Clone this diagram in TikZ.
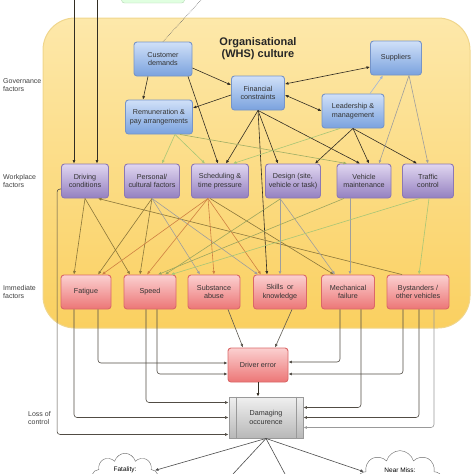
\documentclass[tikz,border=0pt]{standalone}
\usepackage{fontspec}
\setmainfont{Liberation Sans}
\usetikzlibrary{
  arrows.meta,
  positioning,
  shapes.symbols,
  calc
}
\definecolor{govTop}{RGB}{208,224,248}
\definecolor{govBot}{RGB}{122,162,222}
\definecolor{govLine}{RGB}{118,148,200}
\definecolor{workTop}{RGB}{224,214,240}
\definecolor{workBot}{RGB}{148,128,192}
\definecolor{workLine}{RGB}{140,120,180}
\definecolor{immTop}{RGB}{251,208,208}
\definecolor{immBot}{RGB}{236,118,118}
\definecolor{immLine}{RGB}{218,104,104}
\definecolor{bgTop}{RGB}{253,232,170}
\definecolor{bgBot}{RGB}{250,208,96}
\definecolor{bgLine}{RGB}{240,214,140}
\definecolor{darkEdge}{RGB}{50,45,35}
\definecolor{oliveEdge}{RGB}{138,118,58}
\definecolor{orangeEdge}{RGB}{206,128,66}
\definecolor{grayEdge}{RGB}{158,158,158}
\definecolor{greenEdge}{RGB}{168,198,118}
\tikzset{
  factor/.style={
    rounded corners=3pt,
    draw,
    line width=0.9pt,
    align=center,
    inner sep=1pt,
    minimum height=34pt,
    text=black!80,
    font=\fontsize{7.2}{8.6}\selectfont
  },
  govbox/.style={factor, draw=govLine, top color=govTop, bottom color=govBot},
  workbox/.style={factor, draw=workLine, top color=workTop, bottom color=workBot},
  immbox/.style={factor, draw=immLine, top color=immTop, bottom color=immBot},
  levellabel/.style={anchor=west, align=left, inner sep=0pt, text=black!75,
    font=\fontsize{7}{8.5}\selectfont},
  outcome/.style={cloud, cloud puffs=9, aspect=1.6, draw=black!60, fill=white,
    minimum width=62pt, minimum height=44pt, inner sep=1pt, font=\fontsize{6.5}{7}\selectfont},
  link/.style={-{Latex[length=3.5pt,width=3pt]}, line width=0.6pt},
  dark/.style={link, draw=darkEdge},
  olive/.style={link, draw=oliveEdge},
  orange/.style={link, draw=orangeEdge},
  grey/.style={link, draw=grayEdge},
  green/.style={link, draw=greenEdge},
  elbow/.style={link, draw=darkEdge!85, rounded corners=3pt}
}

\begin{document}
\begin{tikzpicture}[x=1pt, y=-1pt]
  \useasboundingbox (0,0) rectangle (474,474);

  % organisational culture
  \draw[bgLine, line width=1pt, rounded corners=32pt, top color=bgTop, bottom color=bgBot]
    (43,18) rectangle (470,328);
  \node[font=\bfseries\fontsize{11}{12}\selectfont, align=center, text=black!85] (title)
    at (258,49) {Organisational\\(WHS) culture};

  % level labels
  \node[levellabel] (govlabel) at (3,85) {Governance\\factors};
  \node[levellabel] (worklabel) at (3,181) {Workplace\\factors};
  \node[levellabel] (immlabel) at (3,292) {Immediate\\factors};
  \node[levellabel] (losslabel) at (28,418) {Loss of\\control};

  % box above, cut off
  \node[draw=green!45!black!30, fill=green!12, minimum width=63pt, minimum height=24pt,
    rounded corners=3pt] (above) at (153,-9) {};

  % governance factors
  \node[govbox, minimum width=58pt] (cust) at (163,59) {Customer\\demands};
  \node[govbox, minimum width=67pt] (rem) at (159,117) {Remuneration \&\\pay arrangements};
  \node[govbox, minimum width=53pt] (fin) at (258,93) {Financial\\constraints};
  \node[govbox, minimum width=62pt] (lead) at (353,111) {Leadership \&\\management};
  \node[govbox, minimum width=51pt] (supp) at (396,58) {Suppliers};

  % workplace factors
  \node[workbox, minimum width=47pt] (drive) at (85,181) {Driving\\conditions};
  \node[workbox, minimum width=55pt] (pers) at (152,181) {Personal/\\cultural factors};
  \node[workbox, minimum width=57pt] (sched) at (220,181) {Scheduling \&\\time pressure};
  \node[workbox, minimum width=55pt] (design) at (293,181) {Design (site,\\vehicle or task)};
  \node[workbox, minimum width=54pt] (vehicle) at (364,181) {Vehicle\\maintenance};
  \node[workbox, minimum width=51pt] (traffic) at (428,181) {Traffic\\control};

  % immediate factors
  \node[immbox, minimum width=50pt] (fatigue) at (86,292) {Fatigue};
  \node[immbox, minimum width=52pt] (speed) at (150,292) {Speed};
  \node[immbox, minimum width=52pt] (subst) at (214,292) {Substance\\abuse};
  \node[immbox, minimum width=53pt] (skills) at (280,292) {Skills~~or\\knowledge};
  \node[immbox, minimum width=53pt] (mech) at (348,292) {Mechanical\\failure};
  \node[immbox, minimum width=62pt] (byst) at (418,292) {Bystanders /\\other vehicles};

  \node[immbox, minimum width=60pt] (drerr) at (258,365) {Driver error};
  \node[factor, draw=black!40, top color=black!6, bottom color=black!28, rounded corners=0pt,
    minimum width=74pt, minimum height=41pt] (damage) at (266,417.5) {Damaging\\occurence};
  \draw[black!40, line width=0.7pt] ([xshift=8pt]damage.north west) -- ([xshift=8pt]damage.south west);
  \draw[black!40, line width=0.7pt] ([xshift=-7pt]damage.north east) -- ([xshift=-7pt]damage.south east);

  % outcomes
  \node[outcome, text depth=20pt] (fatal) at (125,479) {Fatality:};
  \node[outcome, minimum width=60pt, text depth=28pt] (nearmiss) at (400,484) {Near Miss:};
  \coordinate (outA) at (233,474);
  \coordinate (outB) at (285,474);

  % from above
  \coordinate (topA) at (74,0);
  \coordinate (topB) at (97,0);
  \coordinate (topC) at (201,0);
  \draw[dark] (topA) -- (topA |- drive.north);
  \draw[dark] (topB) -- (topB |- drive.north);
  \draw[black!60, densely dotted, line width=0.6pt] (topC) -- (cust.north);

  % governance links
  \draw[dark] ([xshift=-15pt]cust.south) -- ([xshift=-16pt]rem.north);
  \draw[dark] ([yshift=-9pt]cust.east) -- ([yshift=8pt]fin.west);
  \draw[dark] ([yshift=-2pt]fin.west) -- ([yshift=9pt]rem.east);
  \draw[dark, {Latex[length=3.5pt,width=3pt]}-{Latex[length=3.5pt,width=3pt]}]
    ([yshift=9pt]fin.east) -- ([yshift=-9pt]supp.west);
  \draw[dark, {Latex[length=3.5pt,width=3pt]}-{Latex[length=3.5pt,width=3pt]}]
    ([yshift=-2pt]fin.east) -- (lead.west);
  \draw[grey, draw=govLine!70] ([xshift=17pt]lead.north) -- ([xshift=-13pt]supp.south);
  \draw[dark] ([xshift=25pt]cust.south) -- ([xshift=-2pt]sched.north);
  \draw[dark] (fin.south) -- ([xshift=6pt]sched.north);
  \draw[dark] (fin.south) -- ([xshift=-15pt]design.north);
  \draw[dark] (fin.south) -- ([xshift=-13pt]skills.north);
  \draw[dark] (fin.south) -- ([xshift=-4pt]vehicle.north);
  \draw[dark] (lead.south) -- ([xshift=22pt]design.north);
  \draw[dark] (lead.south) -- ([xshift=5pt]vehicle.north);
  \draw[dark] (lead.south) -- ([xshift=-11pt]traffic.north);
  \draw[green] ([xshift=-13pt]lead.south) -- ([xshift=13pt]sched.north);
  \draw[grey] ([xshift=13pt]supp.south) -- ([xshift=15pt]vehicle.north);
  \draw[grey] ([xshift=13pt]supp.south) -- (traffic.north);
  \draw[green] ([xshift=16pt]rem.south) -- ([xshift=10pt]pers.north);
  \draw[green] ([xshift=16pt]rem.south) -- ([xshift=-15pt]sched.north);
  \draw[green, draw=greenEdge!70!oliveEdge] ([xshift=21pt]rem.south) -- ([xshift=-17pt]vehicle.north);

  % workplace to immediate
  \draw[olive] (drive.south) -- ([xshift=-12pt]fatigue.north);
  \draw[olive] (drive.south) -- ([xshift=-20pt]speed.north);
  \draw[olive] ([xshift=-16pt]byst.north) -- ([xshift=13pt]drive.south);
  \draw[olive] (pers.south) -- ([xshift=12pt]fatigue.north);
  \draw[olive] (pers.south) -- ([xshift=-10pt]speed.north);
  \draw[grey] (pers.south) -- ([xshift=-14pt]subst.north);
  \draw[grey] (pers.south) -- ([xshift=-22pt]skills.north);
  \draw[orange] ([xshift=-12pt]sched.south) -- ([xshift=16pt]fatigue.north);
  \draw[orange] ([xshift=-12pt]sched.south) -- ([xshift=-3pt]speed.north);
  \draw[orange] ([xshift=-12pt]sched.south) -- (subst.north);
  \draw[orange] ([xshift=-12pt]sched.south) -- ([xshift=-19pt]skills.north);
  \draw[olive] ([xshift=-10pt]sched.south) -- ([xshift=-14pt]mech.north);
  \draw[green, draw=greenEdge!60!oliveEdge] ([xshift=-12pt]design.south) -- ([xshift=15pt]speed.north);
  \draw[grey] ([xshift=-13pt]design.south) -- (skills.north);
  \draw[grey] ([xshift=-13pt]design.south) -- ([xshift=-13pt]mech.north);
  \draw[grey] ([xshift=-14pt]vehicle.south) -- ([xshift=2pt]mech.north);
  \draw[green, draw=greenEdge!60!oliveEdge] ([xshift=-20pt]vehicle.south) -- ([xshift=8pt]speed.north);
  \draw[green] ([xshift=1pt]traffic.south) -- ([xshift=1pt]byst.north);
  \draw[green] ([xshift=-8pt]traffic.south) -- ([xshift=21pt]speed.north);

  % immediate to driver error and damaging occurence
  \draw[elbow] ([yshift=-8pt]drive.west) -- ++(-4,0) |- ([yshift=-17pt]damage.west);
  \draw[elbow] ([xshift=-12pt]fatigue.south) |- (damage.west);
  \draw[elbow] ([xshift=12pt]fatigue.south) |- ([yshift=2pt]drerr.west);
  \draw[elbow] ([xshift=-4pt]speed.south) |- ([yshift=15pt]damage.west);
  \draw[elbow] ([xshift=7pt]speed.south) |- ([yshift=-9pt]drerr.west);
  \draw[dark, draw=darkEdge!80] ([xshift=14pt]subst.south) -- ([xshift=-15pt]drerr.north);
  \draw[dark, draw=darkEdge!80] ([xshift=12pt]skills.south) -- ([xshift=17pt]drerr.north);
  \draw[elbow] ([xshift=-8pt]mech.south) |- ([yshift=3pt]drerr.east);
  \draw[elbow] ([xshift=13pt]mech.south) |- ([yshift=10pt]damage.east);
  \draw[elbow] ([xshift=-15pt]byst.south) |- ([yshift=-9pt]drerr.east);
  \draw[elbow] ([xshift=1pt]byst.south) |- (damage.east);
  \draw[elbow, draw=black!40] ([xshift=16pt]byst.south) |- ([yshift=-10pt]damage.east);
  \draw[dark] (drerr.south) -- (drerr.south |- damage.north);

  % outcomes
  \draw[dark, draw=black!70] (damage.south) -- (fatal);
  \draw[dark, draw=black!70] (damage.south) -- (nearmiss);
  \draw[black!70, line width=0.6pt] (damage.south) -- (outA);
  \draw[black!70, line width=0.6pt] (damage.south) -- (outB);
\end{tikzpicture}
\end{document}
